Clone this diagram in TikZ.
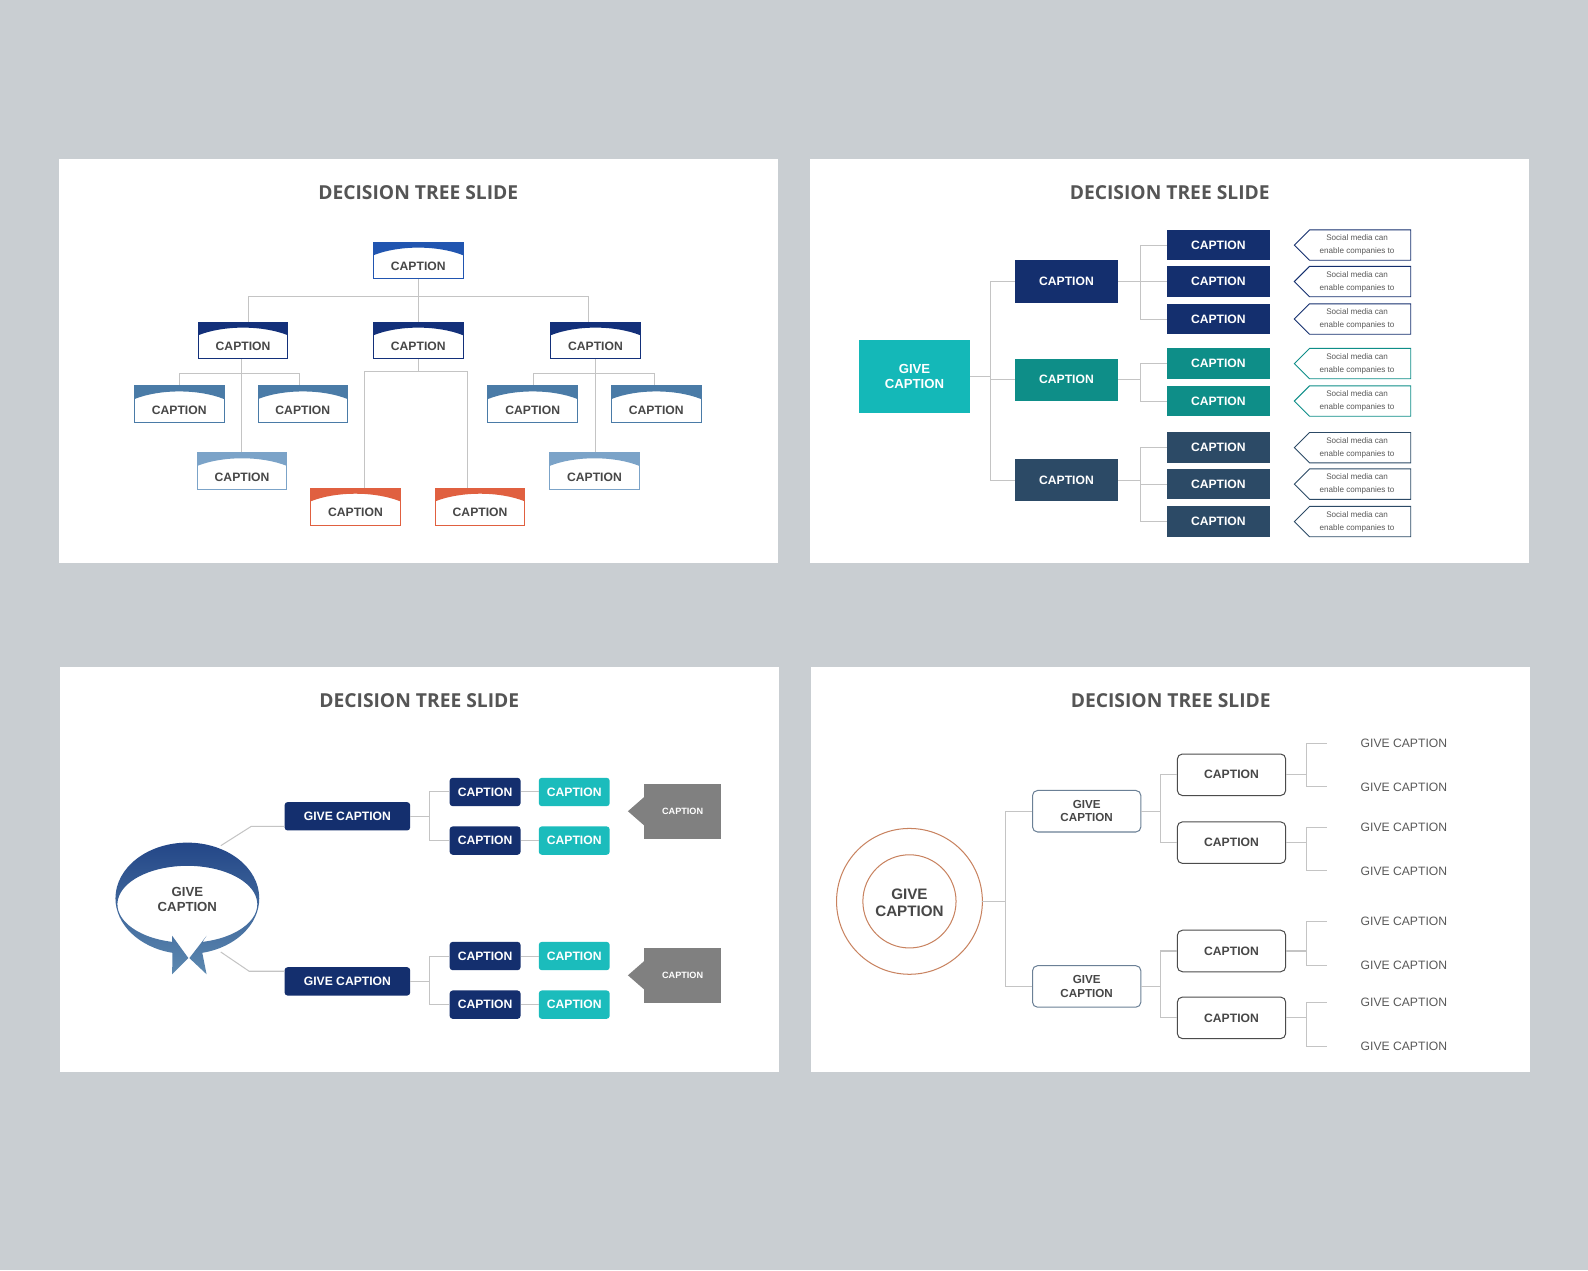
\documentclass[tikz,border=0pt]{standalone}
\usepackage{fontspec}
\setmainfont{Liberation Sans}
\newfontfamily\ttlfont{Open Sans}
\usetikzlibrary{calc}
\definecolor{bg}{HTML}{C9CED2}
\definecolor{ttl}{HTML}{555555}
\definecolor{ln}{HTML}{C4C4C4}
\definecolor{cA}{HTML}{2155B0}
\definecolor{cB}{HTML}{13307A}
\definecolor{cC}{HTML}{4A7BA7}
\definecolor{cD}{HTML}{7BA3C8}
\definecolor{cE}{HTML}{E06040}
\definecolor{navy}{HTML}{142F6E}
\definecolor{teal}{HTML}{0E8E88}
\definecolor{tealL}{HTML}{14B8B8}
\definecolor{tealM}{HTML}{1BBCBC}
\definecolor{slate}{HTML}{2C4A66}
\definecolor{gbox}{HTML}{808080}
\definecolor{ring}{HTML}{C8825F}
\definecolor{p4b}{HTML}{6B8096}
\tikzset{
 title/.style={font=\ttlfont\bfseries\fontsize{19}{20}\selectfont,text=ttl},
 captxt/.style={font=\bfseries\fontsize{12}{13}\selectfont,text=black!72},
 conn/.style={draw=ln,line width=1pt},
 sq/.style={fill=#1,minimum width=102,minimum height=42,inner sep=0,text=white,font=\bfseries\fontsize{12}{13}\selectfont},
 sqs/.style={sq=#1,minimum height=30},
 tag/.style={draw=#1,line width=0.9pt,fill=white},
 tagtxt/.style={font=\fontsize{8}{13}\selectfont,text=black!65,align=center},
 rb/.style={fill=#1,rounded corners=3pt,minimum width=70,minimum height=28,inner sep=0,text=white,font=\bfseries\fontsize{12}{13}\selectfont},
 wb/.style={draw=#1,line width=1pt,rounded corners=5pt,fill=white,minimum width=107,minimum height=41,inner sep=0,align=center,font=\bfseries\fontsize{12}{13}\selectfont,text=black!72},
 gc/.style={font=\fontsize{12}{13}\selectfont,text=black!65,anchor=west},
}
\newcommand\capbox[4]{%
 \node[fill=white,minimum width=88,minimum height=36,inner sep=0,anchor=north] (#1) at (#2,#3) {};
 \fill[#4] (#1.north west) -- (#1.north east) -- ([yshift=-13pt]#1.north east) .. controls +(-25,-10) and +(25,-10) .. ([yshift=-13pt]#1.north west) -- cycle;
 \draw[#4,line width=1pt] (#1.north west) rectangle (#1.south east);
 \node[captxt] at (#2,#3+24) {CAPTION};}
\newcommand\tagshape[3]{% name, y, color
 \draw[tag=#3] (1293,#2-15) -- (1393,#2-15) -- (1393,#2+15) -- (1293,#2+15) -- (1278,#2) -- cycle;
 \node[tagtxt] (#1) at (1340,#2) {Social media can\\enable companies to};}
\begin{document}
\begin{tikzpicture}[x=1pt,y=-1pt]
\fill[bg] (0,0) rectangle (1568,1254);
\useasboundingbox (0,0) rectangle (1568,1254);
\fill[white] (58,157) rectangle (768,556);
\fill[white] (800,157) rectangle (1510,556);
\fill[white] (59,659) rectangle (769,1058);
\fill[white] (801,659) rectangle (1511,1058);
\node[title] at (413,190) {DECISION TREE SLIDE};
\node[title] at (1155,190) {DECISION TREE SLIDE};
\node[title] at (414,692) {DECISION TREE SLIDE};
\node[title] at (1156,692) {DECISION TREE SLIDE};
% ---------- panel 1
\draw[conn] (413,275) -- (413,318) (245,318) -- (245,293) -- (581,293) -- (581,318);
\draw[conn] (238,354) -- (238,447) (177,381) -- (177,369) -- (296,369) -- (296,381);
\draw[conn] (413,354) -- (413,367) (360,482) -- (360,367) -- (462,367) -- (462,482);
\draw[conn] (588,354) -- (588,447) (527,381) -- (527,369) -- (646,369) -- (646,381);
\capbox{t}{413}{239}{cA}
\capbox{a}{240}{318}{cB}
\capbox{b}{413}{318}{cB}
\capbox{c}{588}{318}{cB}
\capbox{a1}{177}{381}{cC}
\capbox{a2}{299}{381}{cC}
\capbox{c1}{526}{381}{cC}
\capbox{c2}{648}{381}{cC}
\capbox{a3}{239}{447}{cD}
\capbox{c3}{587}{447}{cD}
\capbox{b1}{351}{482}{cE}
\capbox{b2}{474}{482}{cE}
% ---------- panel 2
\node[sq=tealL,minimum width=110,minimum height=72,align=center,font=\bfseries\fontsize{13}{15}\selectfont] (g) at (903,372) {GIVE\\CAPTION};
\node[sq=navy] (n1) at (1053,278) {CAPTION};
\node[sq=teal] (n2) at (1053,375) {CAPTION};
\node[sq=slate] (n3) at (1053,474) {CAPTION};
\draw[conn] (g.east) -- (978,372) (n1.west) -| (978,474) -- (n3.west) (978,375) -- (n2.west);
\foreach \y/\c [count=\i] in {242/navy,278/navy,315/navy,359/teal,396/teal,442/slate,478/slate,515/slate}{
  \node[sqs=\c] (m\i) at (1203,\y) {CAPTION};
  \tagshape{tg\i}{\y}{\c}}
\draw[conn] (n1.east) -- (1126,278) (m1.west) -| (1126,315) -- (m3.west) (1126,278) -- (m2.west);
\draw[conn] (n2.east) -- (1126,375) (m4.west) -| (1126,396) -- (m5.west);
\draw[conn] (n3.east) -- (1126,474) (m6.west) -| (1126,515) -- (m8.west) (1126,478) -- (m7.west);
% ---------- panel 3
\shade[top color=cB!70!cC,bottom color=cC!90!white] (185,832) arc[start angle=270,end angle=102,x radius=71,y radius=55] -- (170,962) -- (186,946) -- (170,924) -- (170,930) arc[start angle=102.5,end angle=270,x radius=69,y radius=38] -- cycle;
\shade[top color=cB!70!cC,bottom color=cC!90!white] (185,832) arc[start angle=270,end angle=438,x radius=71,y radius=55] -- (204,962) -- (187,946) -- (204,924) -- (200,930) arc[start angle=437.5,end angle=270,x radius=69,y radius=38] -- cycle;
\node[captxt,align=center,font=\bfseries\fontsize{13}{15}\selectfont] (gc3) at (185,888) {GIVE\\CAPTION};
\node[rb=navy,minimum width=124] (u) at (343,806) {GIVE CAPTION};
\node[rb=navy,minimum width=124] (d) at (343,969) {GIVE CAPTION};
\coordinate (ue) at (218,835); \coordinate (de) at (218,940);
\draw[conn] (ue) -- (248,816) -- (u.west |- 0,816);
\draw[conn] (de) -- (246,959) -- (d.west |- 0,959);
\foreach \y [count=\i] in {782,830,944,992}{
  \node[rb=navy] (p\i) at (479,\y) {CAPTION};
  \node[rb=tealM] (q\i) at (567,\y) {CAPTION};
  \draw[conn] (p\i) -- (q\i);}
\draw[conn] (u.east) -- (424,806) (p1.west) -| (424,830) -- (p2.west);
\draw[conn] (d.east) -- (424,969) (p3.west) -| (424,992) -- (p4.west);
\foreach \y [count=\i] in {801,963}{
  \node[fill=gbox,minimum width=76,minimum height=54,inner sep=0,text=white,font=\bfseries\fontsize{9}{10}\selectfont] (gb\i) at (674,\y) {CAPTION};
  \fill[gbox] (636,\y-14) -- (620,\y) -- (636,\y+14) -- cycle;}
% ---------- panel 4
\draw[ring,line width=1pt] (898,890) circle[radius=72];
\draw[ring,line width=1pt] (898,890) circle[radius=46];
\node[captxt,align=center,font=\bfseries\fontsize{15}{17}\selectfont] (gc4) at (898,891) {GIVE\\CAPTION};
\node[wb=p4b,font=\bfseries\fontsize{11.5}{13}\selectfont] (r1) at (1073,801) {GIVE\\CAPTION};
\node[wb=p4b,font=\bfseries\fontsize{11.5}{13}\selectfont] (r2) at (1073,974) {GIVE\\CAPTION};
\draw[conn] (970,890) -- (993,890) (r1.west) -| (993,974) -- (r2.west);
\foreach \y/\ya/\yb [count=\i] in {765/734/777,832/817/860,939/910/953,1005/990/1033}{
  \node[wb=black!70] (s\i) at (1216,\y) {CAPTION};
  \draw[conn] (s\i.east) -- (1290,\y) (1310,\ya) -- (1290,\ya) -- (1290,\yb) -- (1310,\yb);
  \node[gc] (la\i) at (1340,\ya) {GIVE CAPTION};
  \node[gc] (lb\i) at (1340,\yb) {GIVE CAPTION};}
\draw[conn] (r1.east) -- (1146,801) (s1.west) -| (1146,832) -- (s2.west);
\draw[conn] (r2.east) -- (1146,974) (s3.west) -| (1146,1005) -- (s4.west);
\end{tikzpicture}
\end{document}
